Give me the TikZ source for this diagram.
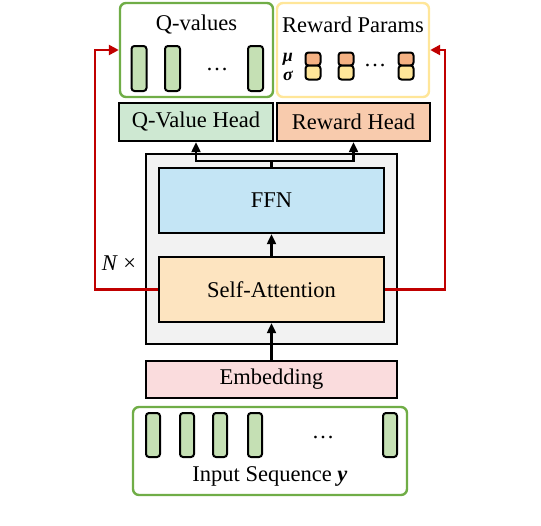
\documentclass[tikz,border=0pt]{standalone}
\usepackage{fontspec}
\setmainfont{Liberation Serif}
\usetikzlibrary{arrows.meta}
\definecolor{qgreen}{RGB}{112,173,71}
\definecolor{barfill}{RGB}{197,224,180}
\definecolor{qhead}{RGB}{206,232,210}
\definecolor{rhead}{RGB}{248,203,173}
\definecolor{pyellow}{RGB}{255,230,153}
\definecolor{ffnblue}{RGB}{196,229,245}
\definecolor{saorange}{RGB}{253,228,192}
\definecolor{embpink}{RGB}{250,220,221}
\definecolor{outergray}{RGB}{242,242,242}
\definecolor{cellorange}{RGB}{244,177,131}
\definecolor{cellyellow}{RGB}{255,230,153}
\definecolor{redline}{RGB}{192,0,0}
\tikzset{
  box/.style={draw=black, line width=2.4pt, rectangle, inner sep=0pt, font=\fontsize{22.5}{26}\selectfont},
  group/.style={draw, line width=2.4pt, rectangle, rounded corners=6pt, inner sep=0pt},
  bar/.style={draw=black, line width=2pt, rectangle, rounded corners=3pt, fill=barfill, minimum width=15pt, inner sep=0pt},
  cell/.style={draw=black, line width=2pt, rectangle, rounded corners=3pt, minimum width=15pt, inner sep=0pt},
  lbl/.style={font=\fontsize{22.5}{26}\selectfont, inner sep=0pt},
  arr/.style={line width=2.2pt, -{Triangle[length=10pt,width=9pt]}},
  plain/.style={line width=2.2pt},
  redarr/.style={draw=redline, line width=2.4pt, -{Triangle[length=10pt,width=10pt]}},
}
\begin{document}
\begin{tikzpicture}[x=1pt,y=-1pt]
\useasboundingbox (0,0) rectangle (541,525);
% top output boxes
\node[group, draw=qgreen, fill=white, minimum width=153, minimum height=94] (qv) at (196.5,50) {};
\node[lbl] (qvt) at (196.5,25) {Q-values};
\node[group, draw=pyellow, fill=white, minimum width=152, minimum height=94] (rp) at (353,50) {};
\node[lbl] (rpt) at (353,25) {Reward Params};
% Q bars
\node[bar, minimum height=45] (qb1) at (139,68.5) {};
\node[bar, minimum height=45] (qb2) at (172.5,68.5) {};
\node[bar, minimum height=45] (qb3) at (255.5,68.5) {};
\node[lbl, anchor=base] (qdots) at (217,70) {\dots};
% reward cells
\node[font=\fontsize{18}{20}\selectfont\bfseries\itshape, inner sep=0pt] (mu) at (288,59) {μ};
\node[font=\fontsize{18}{20}\selectfont\bfseries\itshape, inner sep=0pt] (sigma) at (288,76) {σ};
\foreach \cx/\n in {313/a,346/b,406/c}{
  \node[cell, fill=cellorange, minimum height=13] (mt\n) at (\cx,59) {};
  \node[cell, fill=cellyellow, minimum height=14] (sb\n) at (\cx,72.5) {};
}
\node[lbl, anchor=base] (rdots) at (375,66) {\dots};
% heads
\node[box, fill=qhead, minimum width=154, minimum height=38] (qh) at (196,122) {Q-Value Head};
\node[box, fill=rhead, minimum width=153, minimum height=38] (rh) at (353.5,122) {Reward Head};
% transformer block
\node[box, fill=outergray, minimum width=251, minimum height=190] (blk) at (271.5,249) {};
\node[box, fill=ffnblue, minimum width=225, minimum height=65] (ffn) at (271.5,200.5) {FFN};
\node[box, fill=saorange, minimum width=225, minimum height=65] (sa) at (271.5,289.5) {Self-Attention};
\node[lbl] (nx) at (119,263) {\textit{N} ×};
% embedding and input
\node[box, fill=embpink, minimum width=251, minimum height=37] (emb) at (271.5,379.5) {Embedding};
\node[group, draw=qgreen, fill=white, minimum width=274, minimum height=88] (inp) at (270,451) {};
\foreach \cx/\n in {153/1,187/2,220/3,255/4,390/5}{
  \node[bar, minimum height=44, minimum width=14] (ib\n) at (\cx,435) {};
}
\node[lbl, anchor=base] (idots) at (323,438) {\dots};
\node[lbl] (inpt) at (270,476) {Input Sequence \textbf{\textit{y}}};
% connectors
\draw[arr] (emb.north) -- (sa.south);
\draw[arr] (sa.north) -- (ffn.south);
\coordinate (split) at (271.5,161);
\coordinate (sl) at (196,161);
\coordinate (sr) at (353.5,161);
\draw[plain] (ffn.north) -- (split);
\draw[plain, line cap=rect] (sl) -- (sr);
\draw[arr] (sl) -- (qh.south);
\draw[arr] (sr) -- (rh.south);
\draw[redarr] (sa.west) -- (95,289.5) |- (qv.west);
\draw[redarr] (sa.east) -- (445,289.5) |- (rp.east);
\end{tikzpicture}
\end{document}
